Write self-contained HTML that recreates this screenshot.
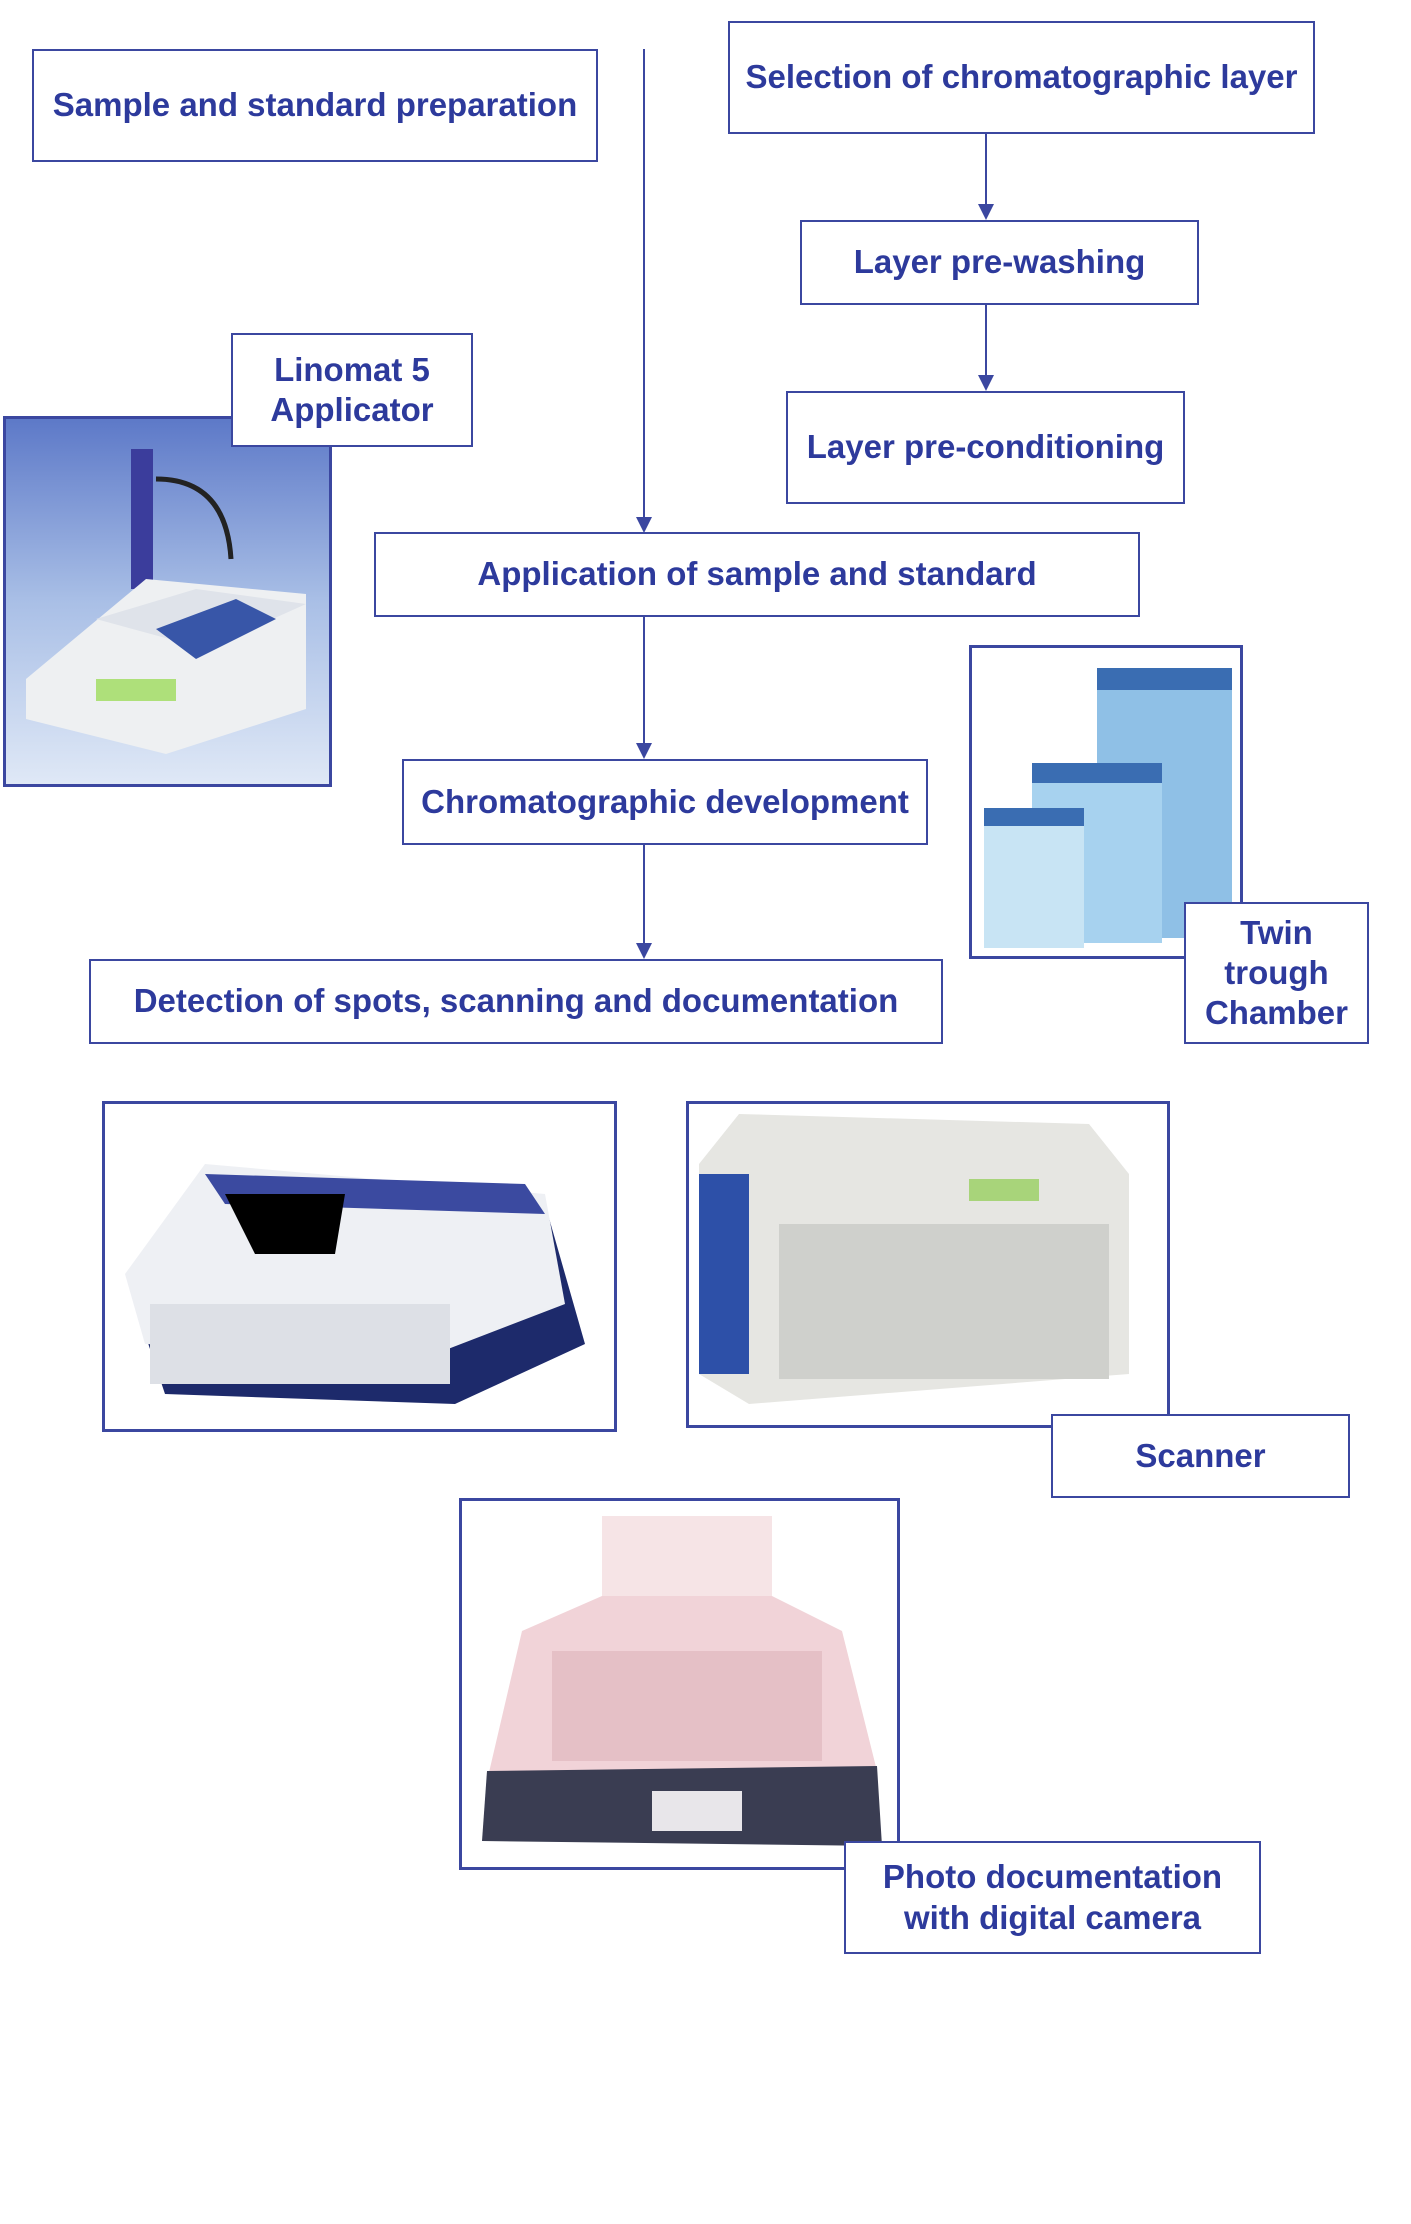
<!DOCTYPE html>
<html><head><meta charset="utf-8"><style>
body{margin:0;width:1411px;height:2224px;background:#fff;position:relative;overflow:hidden;font-family:"Liberation Sans",sans-serif}
.b{position:absolute;box-sizing:border-box;border:2px solid #3b47a0;background:#fff;color:#2d3a9c;font-weight:bold;font-size:33px;display:flex;align-items:center;justify-content:center;text-align:center;line-height:1.22;white-space:nowrap}
.p{position:absolute;box-sizing:border-box;border:3px solid #3b47a0;overflow:hidden}
.l{position:absolute;background:#3b47a0;width:2px}
.a{position:absolute;width:0;height:0;border-left:8px solid transparent;border-right:8px solid transparent;border-top:16px solid #3b47a0}
</style></head><body>
<div class="l" style="left:643px;top:49px;height:470px"></div><div class="a" style="left:636px;top:517px"></div>
<div class="l" style="left:985px;top:134px;height:74px"></div><div class="a" style="left:978px;top:204px"></div>
<div class="l" style="left:985px;top:305px;height:74px"></div><div class="a" style="left:978px;top:375px"></div>
<div class="l" style="left:643px;top:617px;height:128px"></div><div class="a" style="left:636px;top:743px"></div>
<div class="l" style="left:643px;top:845px;height:100px"></div><div class="a" style="left:636px;top:943px"></div>

<div class="p" style="left:3px;top:416px;width:329px;height:371px;background:linear-gradient(#5d79c8,#a9bfe6 50%,#dfe8f6)">
<svg width="329" height="371"><rect x="125" y="30" width="22" height="140" fill="#3b3d9c"/><path d="M150 60 Q220 60 225 140" stroke="#222" stroke-width="5" fill="none"/><polygon points="20,260 140,160 300,175 300,290 160,335 20,300" fill="#eef0f2"/><polygon points="90,200 190,170 300,185 200,230" fill="#dfe3ea"/><polygon points="150,210 230,180 270,200 190,240" fill="#3856a8"/><rect x="90" y="260" width="80" height="22" fill="#aee07a"/></svg></div>
<div class="p" style="left:969px;top:645px;width:274px;height:314px;background:#fff">
<svg width="274" height="314"><rect x="125" y="20" width="135" height="270" fill="#8fc0e6"/><rect x="125" y="20" width="135" height="22" fill="#3a6db2"/><rect x="60" y="115" width="130" height="180" fill="#a7d2ef"/><rect x="60" y="115" width="130" height="20" fill="#3a6db2"/><rect x="12" y="160" width="100" height="140" fill="#c8e4f4"/><rect x="12" y="160" width="100" height="18" fill="#3a6db2"/></svg></div>
<div class="p" style="left:102px;top:1101px;width:515px;height:331px;background:#fff">
<svg width="515" height="331"><polygon points="30,200 110,70 440,100 480,240 350,300 60,290" fill="#1d2a6b"/><polygon points="20,170 100,60 440,90 460,200 330,250 40,240" fill="#eef0f4"/><rect x="45" y="200" width="300" height="80" fill="#dde0e6"/><polygon points="100,70 420,80 440,110 120,100" fill="#3b4aa0"/><polygon points="120,90 240,90 230,150 150,150" fill="#000"/></svg></div>
<div class="p" style="left:686px;top:1101px;width:484px;height:327px;background:#fff">
<svg width="484" height="327"><polygon points="10,60 50,10 400,20 440,70 440,270 60,300 10,270" fill="#e6e6e2"/><rect x="10" y="70" width="50" height="200" fill="#2d50a8"/><rect x="90" y="120" width="330" height="155" fill="#cfd0cc"/><rect x="280" y="75" width="70" height="22" fill="#a8d47a"/></svg></div>
<div class="p" style="left:459px;top:1498px;width:441px;height:372px;background:#fff">
<svg width="441" height="372"><rect x="140" y="15" width="170" height="85" fill="#f6e4e6"/><polygon points="60,130 140,95 310,95 380,130 415,270 25,280" fill="#f1d3d8"/><rect x="90" y="150" width="270" height="110" fill="#e5c0c6"/><polygon points="25,270 415,265 420,345 20,340" fill="#3a3d52"/><rect x="190" y="290" width="90" height="40" fill="#e8e6ea"/></svg></div>

<div class="b" style="left:32px;top:49px;width:566px;height:113px">Sample and standard preparation</div>
<div class="b" style="left:728px;top:21px;width:587px;height:113px">Selection of chromatographic layer</div>
<div class="b" style="left:800px;top:220px;width:399px;height:85px">Layer pre-washing</div>
<div class="b" style="left:786px;top:391px;width:399px;height:113px">Layer pre-conditioning</div>
<div class="b" style="left:231px;top:333px;width:242px;height:114px">Linomat 5<br>Applicator</div>
<div class="b" style="left:374px;top:532px;width:766px;height:85px">Application of sample and standard</div>
<div class="b" style="left:402px;top:759px;width:526px;height:86px">Chromatographic development</div>
<div class="b" style="left:1184px;top:902px;width:185px;height:142px">Twin<br>trough<br>Chamber</div>
<div class="b" style="left:89px;top:959px;width:854px;height:85px">Detection of spots, scanning and documentation</div>
<div class="b" style="left:1051px;top:1414px;width:299px;height:84px">Scanner</div>
<div class="b" style="left:844px;top:1841px;width:417px;height:113px">Photo documentation<br>with digital camera</div>
</body></html>
